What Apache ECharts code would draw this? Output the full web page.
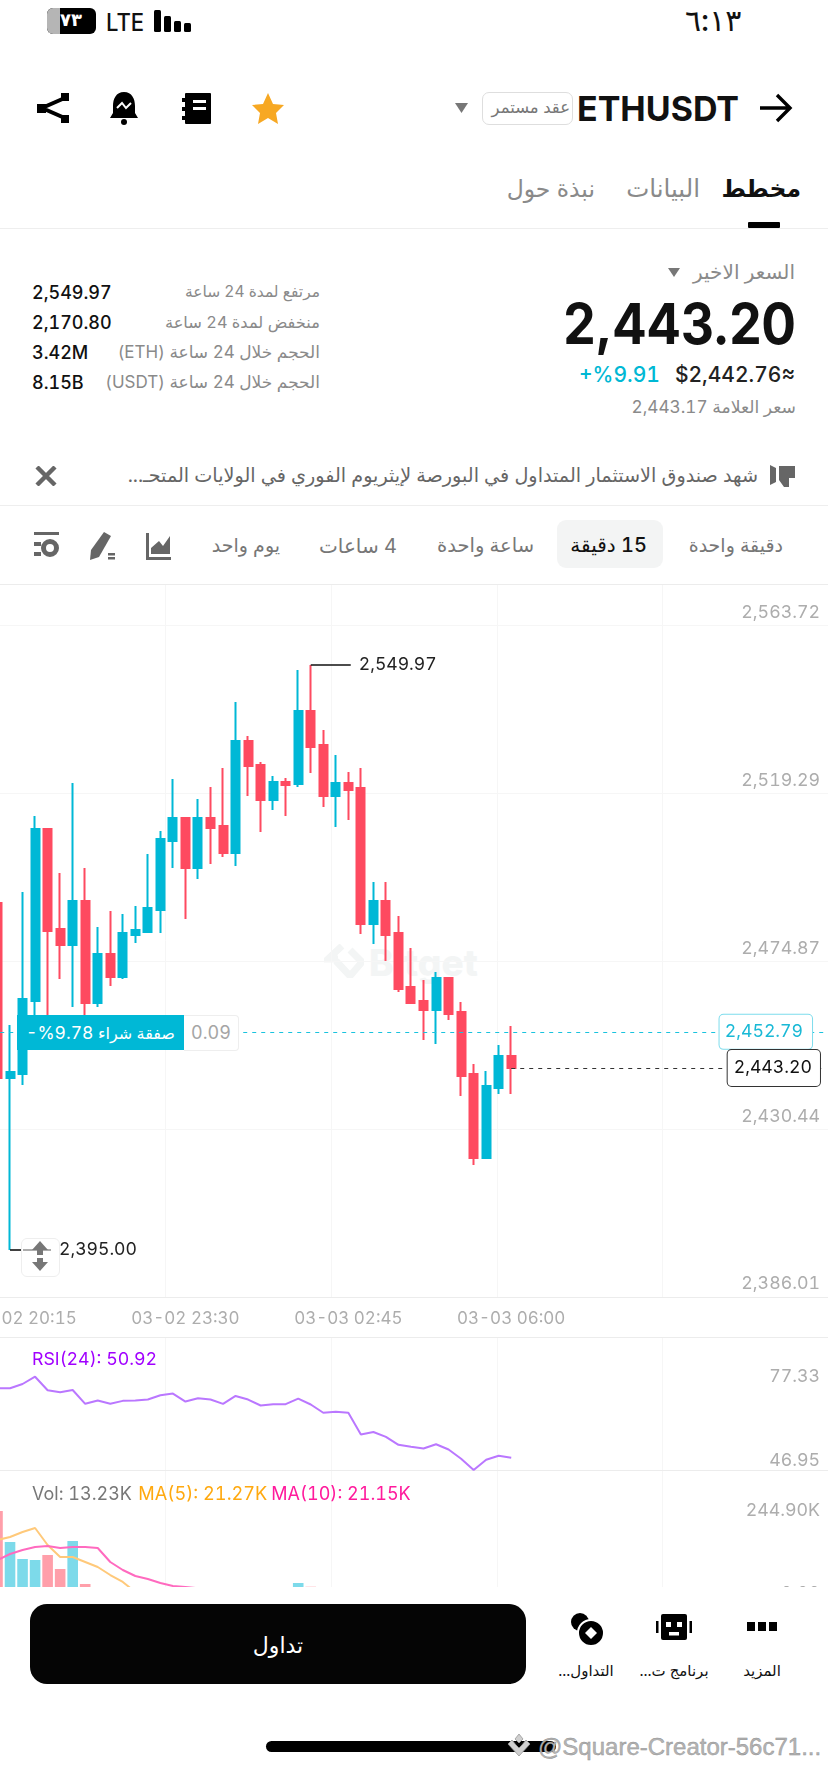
<!DOCTYPE html>
<html>
<head>
<meta charset="utf-8">
<title>ETHUSDT</title>
<script src="https://cdn.jsdelivr.net/npm/echarts@6/dist/echarts.min.js"></script>
<style>
html,body{margin:0;padding:0;background:#fff;}
#page{position:relative;width:828px;height:1768px;overflow:hidden;background:#fff;font-family:Inter,'DejaVu Sans',sans-serif;color:#111;font-variant-numeric:tabular-nums;}
#main{position:absolute;left:0;top:0;width:828px;height:1768px;z-index:1;}
.t{position:absolute;white-space:nowrap;line-height:1;}
.r{direction:rtl;}
.g{color:#8a8a8a;}
.ln{position:absolute;left:0;width:828px;height:1px;background:#eeeeee;}
svg{position:absolute;}
.top{z-index:3;}
#foot{position:absolute;left:0;top:1587px;width:828px;height:181px;background:#fff;z-index:2;}
</style>
</head>
<body>
<div id="page">
  <!-- status bar -->
  <div style="position:absolute;left:47px;top:8px;width:49px;height:26px;border-radius:6px;background:#000;"></div>
  <div style="position:absolute;left:47px;top:8px;width:13px;height:26px;border-radius:6px 0 0 6px;background:#b5b5b5;"></div>
  <div class="t" style="left:60px;top:11px;font-size:18px;color:#fff;font-weight:700;">٧٣</div>
  <div class="t" style="left:106px;top:11px;font-size:24px;font-weight:500;transform:scaleX(.92);transform-origin:left;">LTE</div>
  <svg style="left:154px;top:9px" width="38" height="24"><rect x="0" y="1" width="7" height="22" rx="1.5"/><rect x="10" y="7" width="7" height="16" rx="1.5"/><rect x="20" y="12" width="7" height="11" rx="1.5"/><rect x="30" y="14" width="7" height="9" rx="1.5"/></svg>
  <div class="t" style="left:685px;top:5px;font-size:30px;font-weight:500;">٦:١٣</div>

  <!-- header row -->
  <svg style="left:36px;top:92px" width="34" height="32"><path d="M31 5 L6 16 L31 27" fill="none" stroke="#000" stroke-width="4"/><rect x="25" y="1" width="8" height="8"/><rect x="25" y="23" width="8" height="8"/><rect x="1" y="12" width="9" height="9"/></svg>
  <svg style="left:109px;top:92px" width="30" height="33"><path d="M15 0 C23 0 26 7 26 14 L26 21 L29 26 L1 26 L4 21 L4 14 C4 7 7 0 15 0Z"/><circle cx="15" cy="30" r="3"/><path d="M8 16 L13 11 L17 16 L22 11" fill="none" stroke="#fff" stroke-width="2"/></svg>
  <svg style="left:182px;top:93px" width="29" height="31"><rect x="3" y="0" width="26" height="31" rx="1"/><rect x="0" y="5" width="4" height="4"/><rect x="0" y="14" width="4" height="4"/><rect x="0" y="23" width="4" height="4"/><rect x="11" y="7" width="13" height="3" fill="#fff"/><rect x="11" y="14" width="13" height="3" fill="#fff"/></svg>
  <svg style="left:252px;top:93px" width="32" height="31"><path d="M16 0 L21 11 L32 12 L24 20 L26 31 L16 25 L6 31 L8 20 L0 12 L11 11Z" fill="#f7a823"/></svg>
  <svg style="left:759px;top:93px" width="34" height="30"><path d="M1 15 L31 15 M18 2 L31 15 L18 28" fill="none" stroke="#000" stroke-width="3.4"/></svg>
  <div class="t" style="left:577px;top:92px;font-size:34px;font-weight:700;">ETHUSDT</div>
  <div style="position:absolute;left:482px;top:92px;width:89px;height:31px;border:1px solid #dedede;border-radius:7px;"></div>
  <div class="t r g" style="right:258px;top:99px;font-size:16.5px;color:#777;">عقد مستمر</div>
  <svg style="left:455px;top:103px" width="14" height="10"><path d="M0 0 L13 0 L6.5 10Z" fill="#777"/></svg>

  <!-- tabs -->
  <div class="t r" style="right:27px;top:177px;font-size:23.5px;font-weight:700;">مخطط</div>
  <div class="t r g" style="right:128px;top:176px;font-size:24.5px;">البيانات</div>
  <div class="t r g" style="right:233px;top:177px;font-size:23.5px;">نبذة حول</div>
  <div style="position:absolute;left:748px;top:222px;width:32px;height:6px;background:#000;border-radius:1px;"></div>
  <div class="ln" style="top:228px;"></div>

  <!-- price block -->
  <div class="t r g" style="right:33px;top:262px;font-size:20px;">السعر الاخير</div>
  <svg style="left:668px;top:268px" width="13" height="9"><path d="M0 0 L12 0 L6 9Z" fill="#777"/></svg>
  <div class="t" style="right:33px;top:296px;font-size:56px;font-weight:700;letter-spacing:-.5px;transform:scaleX(.92);transform-origin:right;font-variant-numeric:normal;">2,443.20</div>
  <div class="t" style="left:579px;top:364px;font-size:21px;font-weight:500;color:#00b8d4;">+%9.91</div>
  <div class="t" style="right:33px;top:364px;font-size:21px;font-weight:500;color:#222;">$2,442.76≈</div>
  <div class="t r g" style="right:32px;top:398px;font-size:17.2px;">سعر العلامة 2,443.17</div>

  <!-- 24h stats -->
  <div class="t" style="left:32px;top:284px;font-size:18px;font-weight:500;">2,549.97</div>
  <div class="t" style="left:32px;top:314px;font-size:18px;font-weight:500;">2,170.80</div>
  <div class="t" style="left:32px;top:344px;font-size:18px;font-weight:500;">3.42M</div>
  <div class="t" style="left:32px;top:374px;font-size:18px;font-weight:500;">8.15B</div>
  <div class="t r g" style="right:508px;top:284px;font-size:15.5px;">مرتفع لمدة 24 ساعة</div>
  <div class="t r g" style="right:508px;top:314px;font-size:16.3px;">منخفض لمدة 24 ساعة</div>
  <div class="t r g" style="right:508px;top:344px;font-size:17px;">الحجم خلال 24 ساعة (ETH)</div>
  <div class="t r g" style="right:508px;top:374px;font-size:17px;">الحجم خلال 24 ساعة (USDT)</div>

  <!-- news row -->
  <svg style="left:770px;top:465px" width="25" height="22"><path d="M0 0 L6 3 L6 17 L0 20Z M9 1 L25 1 L25 13 L19 13 L19 22 L14 22 L9 15Z" fill="#666"/></svg>
  <div class="t r" style="right:70px;top:466px;font-size:19.2px;color:#666;">شهد صندوق الاستثمار المتداول في البورصة لإيثريوم الفوري في الولايات المتحـ...</div>
  <svg style="left:35px;top:466px" width="22" height="20"><path d="M2 1 L20 19 M20 1 L2 19" stroke="#666" stroke-width="4.4"/></svg>
  <div class="ln" style="top:505px;"></div>

  <!-- interval row -->
  <div style="position:absolute;left:557px;top:520px;width:106px;height:48px;background:#f3f4f4;border-radius:9px;"></div>
  <div class="t r g" style="right:45px;top:536px;font-size:19px;color:#777;">دقيقة واحدة</div>
  <div class="t r" style="right:181px;top:535px;font-size:20px;font-weight:500;">15 دقيقة</div>
  <div class="t r g" style="right:294px;top:536px;font-size:19.5px;color:#777;">ساعة واحدة</div>
  <div class="t r g" style="right:431px;top:536px;font-size:20px;color:#777;">4 ساعات</div>
  <div class="t r g" style="right:548px;top:536px;font-size:19px;color:#777;">يوم واحد</div>
  <svg style="left:146px;top:533px" width="25" height="27"><path d="M0 0 L3 0 L3 24 L25 24 L25 27 L0 27Z M5 21 L5 15 L13 8 L17 13 L24 3 L24 21Z" fill="#666"/></svg>
  <svg style="left:90px;top:532px" width="26" height="28"><path d="M14 0 L21 4 L9 25 L0 28 L1 18Z" fill="#666"/><rect x="18" y="21" width="7" height="2.5" fill="#666"/><rect x="18" y="25" width="7" height="2.5" fill="#666"/></svg>
  <svg style="left:34px;top:532px" width="25" height="27"><rect x="0" y="0" width="25" height="3" fill="#666"/><rect x="0" y="10" width="7" height="4" fill="#666"/><rect x="0" y="20" width="7" height="4" fill="#666"/><circle cx="16" cy="16" r="6.5" fill="none" stroke="#666" stroke-width="5"/></svg>

  <!-- watermark under the chart -->
  <svg style="left:324px;top:944px" width="40" height="34"><path d="M18 2 L4 15 L14 15 M12 17 L26 32 L38 18 L26 6" fill="none" stroke="#f3f5f5" stroke-width="7"/></svg>
  <div class="t" style="left:369px;top:944px;font-size:37px;font-weight:800;color:#f3f5f5;">Bitget</div>

  <div id="main"></div>

  <!-- open position tag -->
  <div class="t top" style="left:17px;top:1015px;width:167px;height:35px;background:#00b8d6;color:#fff;font-size:17.5px;line-height:35px;text-align:center;">-%9.78 <span class="r" style="display:inline-block;font-size:16px;">صفقة شراء</span></div>
  <div class="t top" style="left:184px;top:1015px;width:54px;height:34px;background:#fff;border:1px solid #eee;border-left:none;border-radius:0 4px 4px 0;color:#a5a5a5;font-size:18px;line-height:34px;text-align:center;">0.09</div>

  <!-- low marker button -->
  <div class="top" style="position:absolute;left:21px;top:1238px;width:37px;height:37px;border:1px solid #eee;border-radius:6px;background:rgba(255,255,255,.75);"></div>
  <svg class="top" style="left:21px;top:1240px;z-index:3" width="38" height="34"><path d="M2 10 L30 10" stroke="#888" stroke-width="1.4"/><path d="M19 1 L27 10 L22 10 L22 15 L16 15 L16 10 L11 10Z M19 31 L27 22 L22 22 L22 18 L16 18 L16 22 L11 22Z" fill="#777"/></svg>

  <!-- footer -->
  <div id="foot">
    <div style="position:absolute;left:30px;top:17px;width:496px;height:80px;background:#050505;border-radius:17px;"></div>
    <div class="t r" style="left:30px;width:496px;top:47px;font-size:22px;color:#fff;text-align:center;">تداول</div>
    <svg style="left:570px;top:26px" width="34" height="32"><circle cx="10" cy="9" r="9"/><circle cx="21" cy="20" r="13" stroke="#fff" stroke-width="2"/><path d="M21 14 L27 20 L21 26 L15 20Z" fill="#fff"/></svg>
    <svg style="left:656px;top:27px" width="36" height="26"><rect x="5" y="0" width="26" height="26" rx="2"/><rect x="0" y="7" width="2.5" height="12"/><rect x="33.5" y="7" width="2.5" height="12"/><rect x="10" y="8" width="5" height="5" fill="#fff"/><rect x="21" y="8" width="5" height="5" fill="#fff"/><rect x="13" y="18" width="10" height="3.5" fill="#fff"/></svg>
    <svg style="left:747px;top:34px" width="31" height="12"><rect x="0" y="1" width="8" height="9"/><rect x="11" y="1" width="8" height="9"/><rect x="22" y="1" width="8" height="9"/></svg>
    <div class="t r" style="left:530px;width:112px;top:76px;font-size:15px;text-align:center;">التداول...</div>
    <div class="t r" style="left:618px;width:112px;top:76px;font-size:15px;text-align:center;">برنامج ت...</div>
    <div class="t r" style="left:706px;width:112px;top:76px;font-size:15px;text-align:center;">المزيد</div>
    <div style="position:absolute;left:266px;top:154px;width:290px;height:11px;background:#000;border-radius:6px;"></div>
    <svg style="left:507px;top:146px" width="24" height="24"><path d="M12 1 L16 6 L12 10 L8 6Z M5 7 L9 12 L12 15 L15 12 L19 7 L23 11 L12 23 L1 11Z" fill="#cfcfcf" stroke="#999" stroke-width=".8"/></svg>
    <div class="t" style="left:538px;top:148px;font-size:24px;color:#b4b4b4;-webkit-text-stroke:.4px #8f8f8f;font-family:'Liberation Sans',sans-serif;">@Square-Creator-56c71...</div>
  </div>
</div>

<script>
// 15m candles
var times = ['03-02 19:45','03-02 20:00','03-02 20:15','03-02 20:30','03-02 20:45','03-02 21:00','03-02 21:15','03-02 21:30','03-02 21:45','03-02 22:00','03-02 22:15','03-02 22:30','03-02 22:45','03-02 23:00','03-02 23:15','03-02 23:30','03-02 23:45','03-03 00:00','03-03 00:15','03-03 00:30','03-03 00:45','03-03 01:00','03-03 01:15','03-03 01:30','03-03 01:45','03-03 02:00','03-03 02:15','03-03 02:30','03-03 02:45','03-03 03:00','03-03 03:15','03-03 03:30','03-03 03:45','03-03 04:00','03-03 04:15','03-03 04:30','03-03 04:45','03-03 05:00','03-03 05:15','03-03 05:30','03-03 05:45','03-03 06:00'];
var opens = [2486.92,2440.56,2441.62,2460.96,2506.52,2480.03,2475.79,2487.45,2460.43,2473.41,2467.32,2478.44,2479.24,2485.07,2503.34,2509.44,2496.19,2509.44,2507.32,2500.17,2529.83,2523.48,2514.21,2518.97,2518.44,2537.78,2528.77,2515.26,2518.71,2517.38,2481.36,2487.45,2478.97,2464.67,2460.96,2458.58,2467.05,2458.05,2441.62,2419.37,2437.91,2446.39];
var closes = [2440.56,2442.15,2461.49,2506.52,2479.50,2475.79,2487.45,2460.43,2473.41,2467.32,2478.97,2479.77,2485.60,2503.87,2509.44,2496.19,2509.44,2506.79,2500.17,2529.83,2523.21,2514.21,2518.97,2518.18,2537.78,2528.24,2515.26,2518.71,2516.85,2481.36,2487.45,2478.44,2464.14,2460.43,2458.58,2467.05,2457.52,2441.09,2419.37,2438.44,2446.39,2443.20];
var lows = [2440.56,2395.00,2438.71,2456.46,2456.99,2466.79,2459.37,2456.99,2459.37,2464.93,2466.79,2476.32,2478.97,2478.97,2496.19,2482.68,2493.28,2497.25,2499.11,2496.72,2515.26,2505.73,2511.56,2509.97,2517.65,2521.36,2512.35,2507.05,2508.91,2478.71,2476.06,2471.56,2463.34,2460.17,2450.63,2449.57,2455.93,2435.79,2417.52,2419.37,2436.32,2436.32];
var highs = [2486.92,2454.60,2489.83,2509.97,2506.52,2494.87,2518.71,2496.19,2480.56,2484.80,2484.01,2486.13,2499.90,2505.99,2519.77,2509.44,2514.47,2517.65,2522.68,2540.17,2531.16,2524.27,2520.56,2520.03,2548.64,2549.97,2532.75,2526.13,2521.62,2522.68,2492.48,2492.48,2483.48,2475.00,2466.52,2468.64,2467.05,2460.70,2444.27,2442.42,2449.30,2454.34];
var rsi = [73.56,73.56,74.96,77.33,72.91,72.27,73.02,68.50,69.57,68.50,69.47,69.57,69.90,71.30,71.84,69.25,70.33,69.90,68.50,71.08,69.90,67.96,68.39,68.39,70.22,68.28,65.59,65.91,65.59,58.48,59.34,57.72,55.14,54.49,53.95,55.35,53.63,50.61,46.95,50.29,51.58,50.92];
var vols = [244.9,162.4,117.1,114.5,127.8,90.5,165.0,50.6,38,30,24,26,22,28,41,32,27,24,30,26,22,25,20,23,53.2,43.3,30,27,24,38,26,24,28,22,21,24,20,30,36,26,17,13.23];
var ma5 = [167.7,175.7,189.0,199.7,154.4,122.5,122.5,109.1,95.8,74.5,55.9,29.3,28,27,29,29,29,29,29,29,27,25,25,25,31,32,33,31,31,31,29,29,29,28,25,24,23,25,28,28,26,21.27];
var ma10 = [114.5,130.4,141.1,149.1,151.7,146.4,149.1,149.1,146.4,109.1,87.8,71.9,63.9,53.2,45.3,42.6,39,36,35,30,28,27,26,27,28,30,29,28,28,30,30,31,31,30,28,28,28,28,28,26,25,21.15];
var priceTicks = [2386.01,2430.44,2474.87,2519.29,2563.72];
var rsiTicks = [46.95,77.33];
var volTicks = [0,244.9];
var lastPrice = 2443.20, entryPrice = 2452.79;
var highMark = [25,2549.97], lowMark = [1,2395.00];

var BLUE = '#00b8d6', RED = '#fe4a60', GRID = '#f6f6f6', EDGE = '#ececec', TICK = '#adadad';
var FONT = 'Inter, "DejaVu Sans", sans-serif';
var BANDS = 67;

var cats = times.slice();
while (cats.length < BANDS) cats.push('');

var candles = opens.map(function(o, i){ return [o, closes[i], lows[i], highs[i]]; });

function money(v){
	return v.toLocaleString('en-US', {minimumFractionDigits: 2, maximumFractionDigits: 2});
}
function gridBox(top, height){
	return {left: -8.77, width: 839.51, top: top, height: height, outerBoundsMode: 'none'};
}
function catAxis(g, labels){
	return {
		type: 'category', gridIndex: g, data: cats, position: 'bottom',
		axisLine: {onZero: false, show: true, lineStyle: {color: EDGE, width: 1}},
		axisTick: {show: false},
		splitLine: {show: false},
		axisLabel: {
			show: labels, color: TICK, fontSize: 17, fontFamily: FONT, margin: 13, hideOverlap: false,
			interval: function(i){ return i <= 41 && (i - 2) % 13 === 0; }
		}
	};
}
// vertical rules split the width in five, whatever the candles do
function ruleAxis(g){
	return {
		type: 'value', gridIndex: g, position: 'top', min: -0.053, max: 5.0166,
		axisLine: {onZero: false, show: true, lineStyle: {color: EDGE, width: 1}},
		axisTick: {show: false, customValues: [1,2,3,4]},
		axisLabel: {show: false},
		splitLine: {show: true, lineStyle: {color: GRID, width: 1}}
	};
}
function sideAxis(g, min, max, ticks, fmt, extra){
	var label = {
		inside: true, margin: 10.7, color: TICK, fontSize: 17.8, fontFamily: FONT,
		customValues: ticks, formatter: fmt
	};
	for (var k in extra) label[k] = extra[k];
	return {
		type: 'value', gridIndex: g, position: 'right', min: min, max: max, scale: true,
		axisLine: {show: false}, axisTick: {show: false}, splitLine: {show: false},
		axisLabel: label
	};
}

var chart = echarts.init(document.getElementById('main'));
chart.setOption({
	animation: false,
	title: [
		{text: 'RSI(24): 50.92', left: 32, top: 1351, padding: 0, textStyle: {color: '#a100ff', fontSize: 17.8, fontWeight: 'normal', fontFamily: FONT}},
		{
			text: '{a|Vol: 13.23K}{b|MA(5): 21.27K}{c|MA(10): 21.15K}', left: 32, top: 1486, padding: 0,
			textStyle: {fontSize: 18, fontWeight: 'normal', fontFamily: FONT, rich: {
				a: {color: '#777', fontSize: 18, fontFamily: FONT},
				b: {color: '#ffa90f', fontSize: 18.2, fontFamily: FONT, padding: [0, 0, 0, 12]},
				c: {color: '#ff1a9c', fontSize: 18, fontFamily: FONT, padding: [0, 0, 0, 12]}
			}}
		}
	],
	grid: [gridBox(584, 713), gridBox(1337, 133), gridBox(1470, 133)],
	xAxis: [catAxis(0, true), catAxis(1, false), catAxis(2, false), ruleAxis(0), ruleAxis(1), ruleAxis(2)],
	yAxis: [
		sideAxis(0, 2382.55, 2571.43, priceTicks, money, {padding: [4, 0, 0, 0]}),
		{
			type: 'value', gridIndex: 0, position: 'left', min: 0, max: 4.244,
			axisLine: {show: false}, axisLabel: {show: false},
			axisTick: {show: false, customValues: [1,2,3,4]},
			splitLine: {show: true, lineStyle: {color: GRID, width: 1}}
		},
		sideAxis(1, 46.95, 90.27, rsiTicks, function(v){ return v.toFixed(2); }, {verticalAlignMinLabel: 'bottom', padding: [2, 0, 0, 0]}),
		sideAxis(2, 0, 354, volTicks, function(v){ return v === 0 ? '0.00' : v.toFixed(2) + 'K'; }, {verticalAlignMinLabel: 'bottom', padding: [4, 0, 0, 0]})
	],
	series: [
		{
			type: 'candlestick', xAxisIndex: 0, yAxisIndex: 0, data: candles, barWidth: 8.5, z: 3,
			itemStyle: {color: BLUE, borderColor: BLUE, color0: RED, borderColor0: RED, borderColorDoji: RED, borderWidth: 2},
			markPoint: {
				silent: true, animation: false,
				data: [
					{
						coord: highMark, symbol: 'rect', symbolSize: [40, 1.6], symbolOffset: [20, 0],
						itemStyle: {color: '#111'},
						label: {show: true, position: 'right', distance: 8, formatter: money(highMark[1]), color: '#222', fontSize: 17.6, fontFamily: FONT}
					},
					{
						coord: lowMark, symbol: 'rect', symbolSize: [12, 1.6], symbolOffset: [6, 0],
						itemStyle: {color: '#111'},
						label: {show: true, position: 'right', distance: 37, formatter: money(lowMark[1]), color: '#222', fontSize: 17.6, fontFamily: FONT}
					}
				]
			},
			markLine: {
				silent: true, animation: false, symbol: 'none',
				data: [
					{
						yAxis: entryPrice,
						lineStyle: {color: '#19c3de', type: [4, 5], width: 1},
						label: {position: 'insideEnd', distance: 18.7, formatter: money(entryPrice), color: '#19b9d6', fontSize: 17.7, fontFamily: FONT, backgroundColor: '#fff', borderColor: '#7ddcec', borderWidth: 1, borderRadius: 4, padding: [8, 9]}
					},
					[
						{coord: [41, lastPrice], lineStyle: {color: '#333', type: [4, 5], width: 1}, label: {position: 'insideEnd', distance: 4.5, formatter: money(lastPrice), color: '#111', fontSize: 17.7, fontFamily: FONT, backgroundColor: '#fff', borderColor: '#333', borderWidth: 1, borderRadius: 4, padding: [9, 8]}},
						{coord: [66, lastPrice]}
					]
				]
			}
		},
		{
			type: 'line', name: 'RSI', xAxisIndex: 1, yAxisIndex: 2, data: rsi, showSymbol: false,
			lineStyle: {color: '#ba77ff', width: 2}, itemStyle: {color: '#ba77ff'}, z: 3
		},
		{
			type: 'bar', name: 'Vol', xAxisIndex: 2, yAxisIndex: 3, data: vols, barWidth: 10.6, z: 2,
			itemStyle: {
				color: function(p){ return closes[p.dataIndex] >= opens[p.dataIndex] ? '#7ddaea' : '#ff9faa'; },
				borderWidth: 0
			}
		},
		{type: 'line', name: 'MA5', xAxisIndex: 2, yAxisIndex: 3, data: ma5, showSymbol: false, lineStyle: {color: '#ffc97a', width: 2}, itemStyle: {color: '#ffc97a'}, z: 3},
		{type: 'line', name: 'MA10', xAxisIndex: 2, yAxisIndex: 3, data: ma10, showSymbol: false, lineStyle: {color: '#ff6abf', width: 2}, itemStyle: {color: '#ff6abf'}, z: 3}
	]
});
</script>
</body>
</html>
